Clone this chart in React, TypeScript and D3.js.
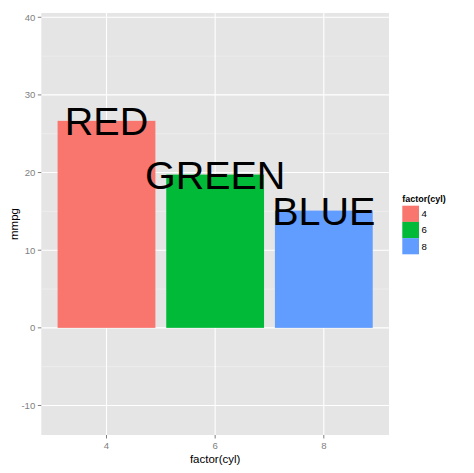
import React from "react";
import * as d3 from "d3";

const categories = ["4", "6", "8"];
const mpgValues = [26.66, 19.74, 15.1];
const barLabels = ["RED", "GREEN", "BLUE"];
const barColors = ["#F8766D", "#00BA38", "#619CFF"];
const yMajorTicks = [-10, 0, 10, 20, 30, 40];
const yMinorTicks = [-5, 5, 15, 25, 35];

const W = 474;
const H = 473;
const panel = { left: 41.3, right: 389, top: 13, bottom: 435 };
const font = "'Liberation Sans', Arial, Helvetica, sans-serif";

export default function App() {
  const x = d3
    .scaleBand<string>()
    .domain(categories)
    .range([panel.left, panel.right])
    .paddingInner(0.1)
    .paddingOuter(0.15);
  const y = d3.scaleLinear().domain([-13.8, 40.55]).range([panel.bottom, panel.top]);
  const cx = (c: string) => (x(c) as number) + x.bandwidth() / 2;

  return (
    <svg
      width={W}
      height={H}
      style={{ position: "absolute", left: 0, top: 0, background: "#fff" }}
      fontFamily={font}
    >
      <rect
        x={panel.left}
        y={panel.top}
        width={panel.right - panel.left}
        height={panel.bottom - panel.top}
        fill="#E5E5E5"
      />
      {yMinorTicks.map((t) => (
        <line key={"mn" + t} x1={panel.left} x2={panel.right} y1={y(t)} y2={y(t)} stroke="#F2F2F2" strokeWidth={0.6} />
      ))}
      {yMajorTicks.map((t) => (
        <line key={"mj" + t} x1={panel.left} x2={panel.right} y1={y(t)} y2={y(t)} stroke="#FFFFFF" strokeWidth={1.1} />
      ))}
      {categories.map((c) => (
        <line key={"vx" + c} x1={cx(c)} x2={cx(c)} y1={panel.top} y2={panel.bottom} stroke="#FFFFFF" strokeWidth={1.1} />
      ))}
      {categories.map((c, i) => (
        <rect
          key={"bar" + c}
          x={x(c)}
          y={y(mpgValues[i])}
          width={x.bandwidth()}
          height={y(0) - y(mpgValues[i])}
          fill={barColors[i]}
        />
      ))}
      {categories.map((c, i) => (
        <text
          key={"lbl" + c}
          x={cx(c)}
          y={y(mpgValues[i])}
          dy="0.37em"
          textAnchor="middle"
          fontSize={39.5}
          fill="#000"
        >
          {barLabels[i]}
        </text>
      ))}
      {/* y axis */}
      {yMajorTicks.map((t) => (
        <g key={"yt" + t}>
          <line x1={panel.left - 3.5} x2={panel.left} y1={y(t)} y2={y(t)} stroke="#7F7F7F" strokeWidth={1} />
          <text x={panel.left - 6} y={y(t)} dy="0.35em" textAnchor="end" fontSize={9.6} fill="#7F7F7F">
            {t}
          </text>
        </g>
      ))}
      {/* x axis */}
      {categories.map((c) => (
        <g key={"xt" + c}>
          <line x1={cx(c)} x2={cx(c)} y1={panel.bottom} y2={panel.bottom + 3.5} stroke="#7F7F7F" strokeWidth={1} />
          <text x={cx(c)} y={panel.bottom + 14} textAnchor="middle" fontSize={9.6} fill="#7F7F7F">
            {c}
          </text>
        </g>
      ))}
      <text
        x={(panel.left + panel.right) / 2}
        y={463}
        textAnchor="middle"
        fontSize={11.5}
        fill="#000"
      >
        factor(cyl)
      </text>
      <text
        transform={`translate(18,${(panel.top + panel.bottom) / 2}) rotate(-90)`}
        textAnchor="middle"
        fontSize={11.5}
        fill="#000"
      >
        mmpg
      </text>
      {/* legend */}
      <text x={402.3} y={201.5} fontSize={9} fontWeight="bold" fill="#000">
        factor(cyl)
      </text>
      {categories.map((c, i) => (
        <g key={"lg" + c}>
          <rect x={402.3} y={205.7 + i * 16.2} width={16.7} height={16.2} fill={barColors[i]} />
          <text x={421.5} y={205.7 + i * 16.2 + 8.1} dy="0.35em" fontSize={9.6} fill="#000">
            {c}
          </text>
        </g>
      ))}
    </svg>
  );
}
